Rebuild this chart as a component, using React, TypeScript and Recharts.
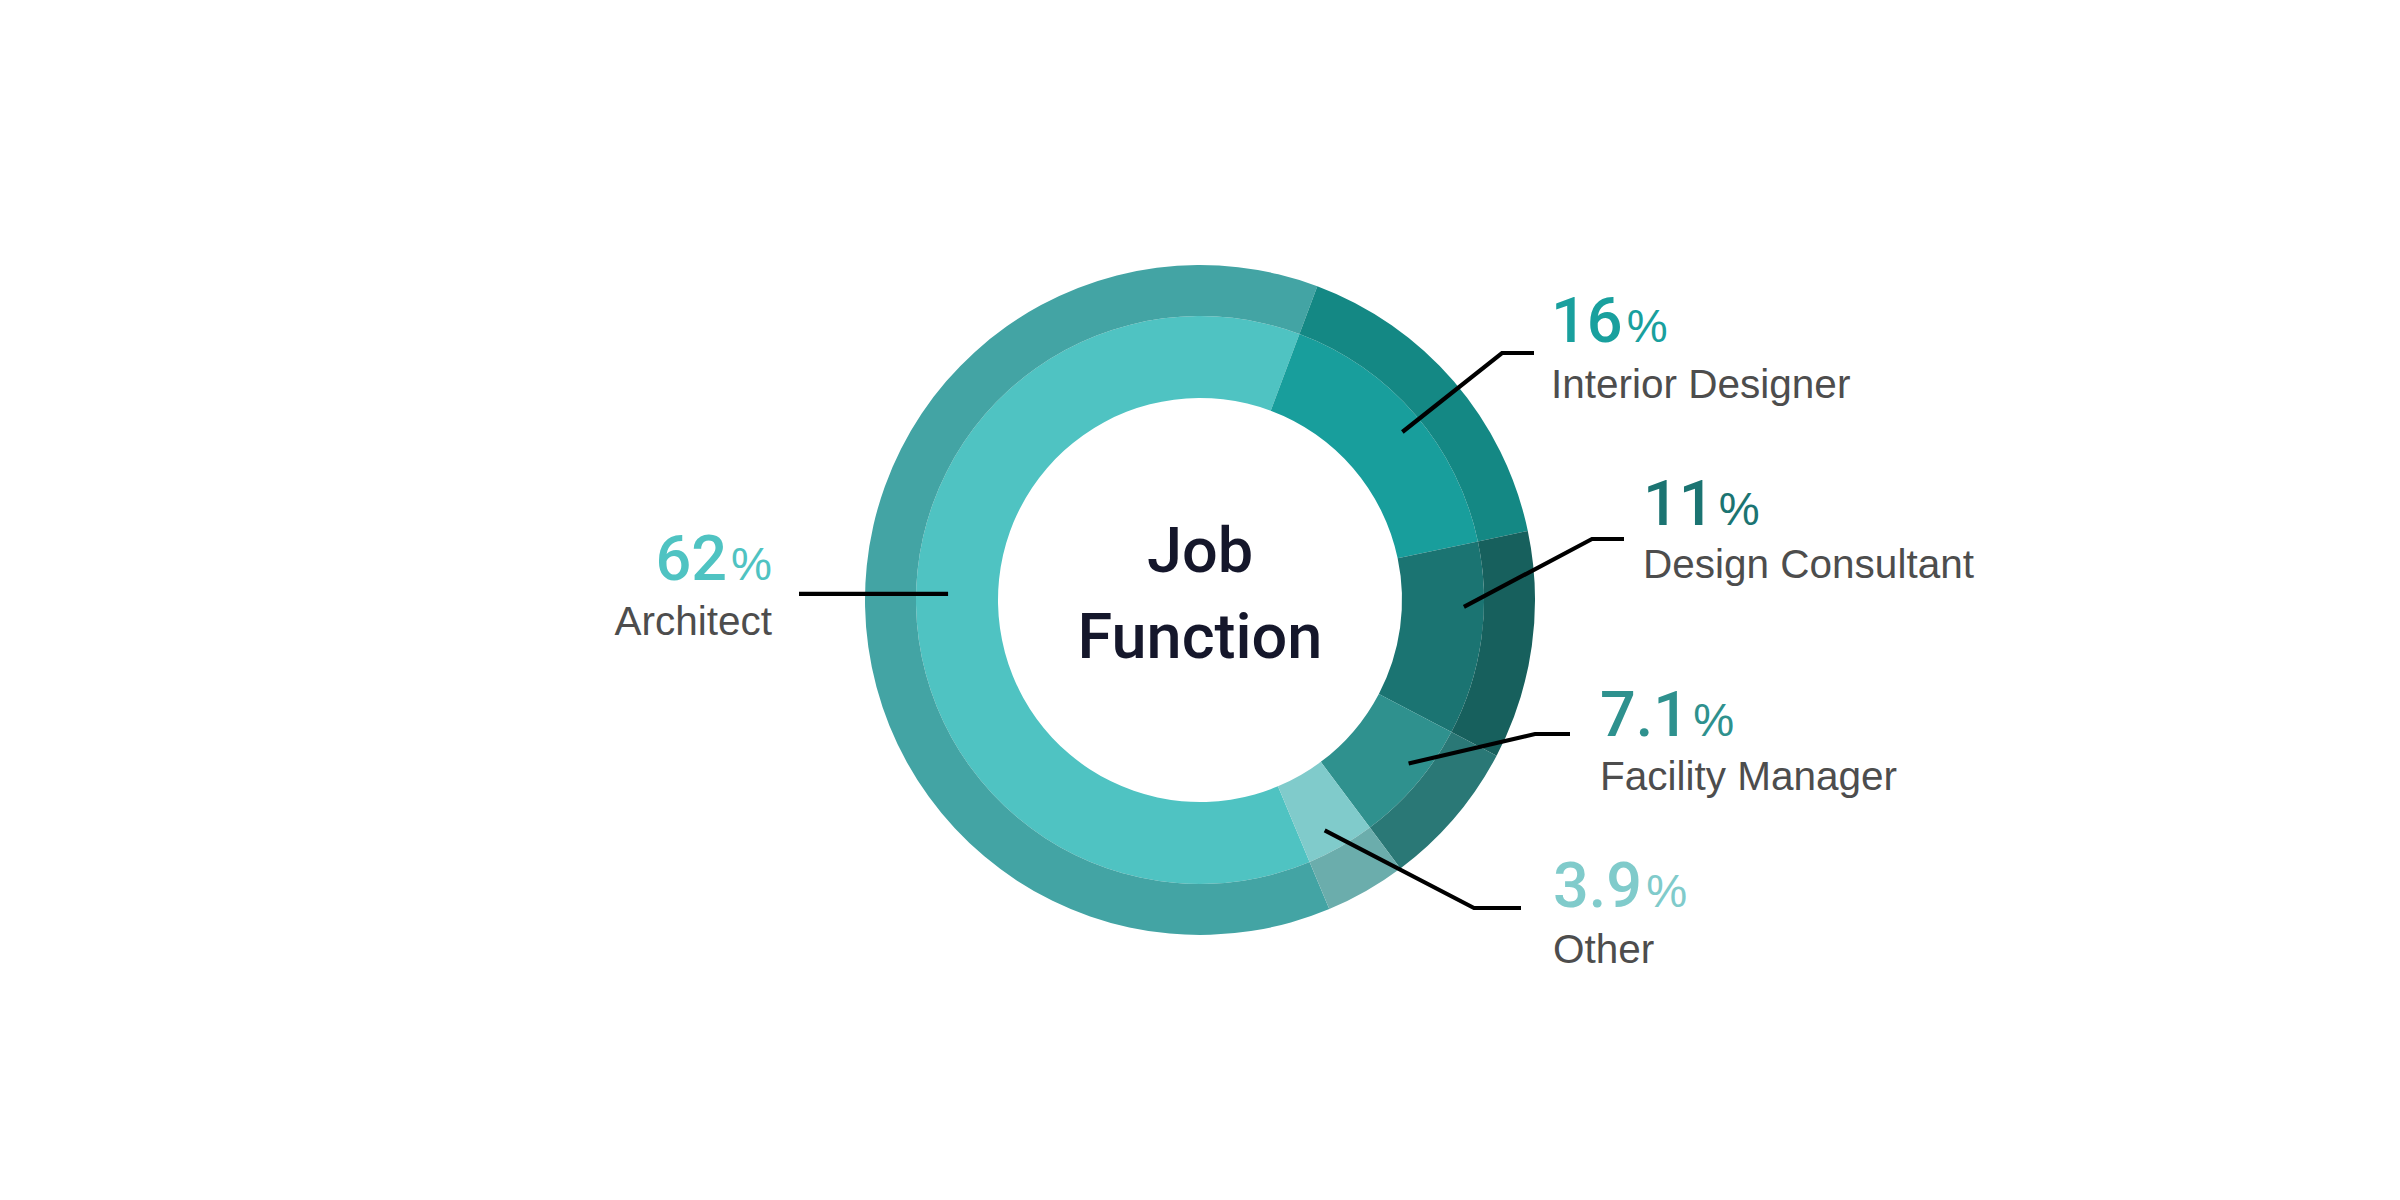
import React from "react";
import { PieChart, Pie, Cell } from "recharts";

// ---- data ----
const categories = ["Architect", "Interior Designer", "Design Consultant", "Facility Manager", "Other"];
const shares = [62, 16, 11, 7.1, 3.9];
const shareLabels = ["62", "16", "11", "7.1", "3.9"];
const innerColors = ["#4FC3C2", "#189E9C", "#1B7472", "#2F918E", "#80CBCB"];
const outerColors = ["#43A4A4", "#148884", "#17605D", "#2A7876", "#6BADAC"];
const numberColors = ["#4FC3C2", "#19A09E", "#1B7472", "#2E918E", "#80CBCB"];
const centerTitle = ["Job", "Function"];

const data = categories.map((name, i) => ({ name, value: shares[i], label: shareLabels[i] }));

// ---- layout ----
const W = 2400;
const H = 1200;
const CX = 1200;
const CY = 600;
const HOLE_R = 202;
const MID_R = 284;
const OUTER_R = 335;
const START_ANGLE = -67.3;

type LabelLayout = {
  r: number; // leader start radius
  nudge: number; // clockwise angle nudge (deg) from slice mid-angle
  elbow?: [number, number];
  endX: number;
  anchor: "start" | "end";
  textX: number;
  numY: number;
  nameY: number;
};

// annotation placement, relative to the pie centre
const labelLayout: LabelLayout[] = [
  { r: 252, nudge: 2.5, endX: -401, anchor: "end", textX: -428, numY: -20, nameY: 35 },
  { r: 263, nudge: 1.0, elbow: [302, -247], endX: 334, anchor: "start", textX: 351, numY: -258, nameY: -202 },
  { r: 264, nudge: -6.4, elbow: [392, -61], endX: 424, anchor: "start", textX: 443, numY: -75, nameY: -22 },
  { r: 265, nudge: -2.4, elbow: [335, 134], endX: 370, anchor: "start", textX: 400, numY: 136, nameY: 190 },
  { r: 262, nudge: 1.3, elbow: [274, 308], endX: 321, anchor: "start", textX: 353, numY: 307, nameY: 363 },
];

const NUM_FONT = "Roboto, 'Liberation Sans', sans-serif";
const LABEL_FONT = "'Liberation Sans', Arial, sans-serif";

const renderLabel = (props: any) => {
  const { cx, cy, midAngle, index } = props;
  const lay = labelLayout[index];
  const rad = (-(midAngle - lay.nudge) * Math.PI) / 180;
  const sx = cx + lay.r * Math.cos(rad);
  const sy = cy + lay.r * Math.sin(rad);
  let pts: number[][];
  if (lay.elbow) {
    const ex = cx + lay.elbow[0];
    const ey = cy + lay.elbow[1];
    pts = [
      [sx, sy],
      [ex, ey],
      [cx + lay.endX, ey],
    ];
  } else {
    pts = [
      [sx, sy],
      [cx + lay.endX, sy],
    ];
  }
  return (
    <g key={`lbl-${index}`}>
      <polyline
        points={pts.map((p) => p.join(",")).join(" ")}
        fill="none"
        stroke="#000000"
        strokeWidth={4.2}
        strokeLinejoin="miter"
      />
      <text x={cx + lay.textX} y={cy + lay.numY} textAnchor={lay.anchor} fill={numberColors[index]}>
        <tspan fontFamily={NUM_FONT} fontWeight={500} fontSize={63}>
          {data[index].label}
        </tspan>
        <tspan fontFamily={LABEL_FONT} fontSize={46} dx={4}>
          %
        </tspan>
      </text>
      <text
        x={cx + lay.textX}
        y={cy + lay.nameY}
        textAnchor={lay.anchor}
        fontFamily={LABEL_FONT}
        fontSize={40.5}
        fill="#4D4D4D"
      >
        {data[index].name}
      </text>
    </g>
  );
};

export default function App() {
  return (
    <div style={{ position: "absolute", left: 0, top: 0, width: W, height: H, background: "#ffffff" }}>
      <PieChart width={W} height={H} margin={{ top: 0, right: 0, bottom: 0, left: 0 }}>
        <Pie
          data={data}
          dataKey="value"
          nameKey="name"
          cx={CX}
          cy={CY}
          innerRadius={HOLE_R}
          outerRadius={MID_R}
          startAngle={START_ANGLE}
          endAngle={START_ANGLE - 360}
          stroke="none"
          isAnimationActive={false}
          labelLine={false}
        >
          {data.map((d, i) => (
            <Cell key={d.name} fill={innerColors[i]} stroke="none" />
          ))}
        </Pie>
        <Pie
          data={data}
          dataKey="value"
          nameKey="name"
          cx={CX}
          cy={CY}
          innerRadius={MID_R}
          outerRadius={OUTER_R}
          startAngle={START_ANGLE}
          endAngle={START_ANGLE - 360}
          stroke="none"
          isAnimationActive={false}
          labelLine={false}
          label={renderLabel}
        >
          {data.map((d, i) => (
            <Cell key={d.name} fill={outerColors[i]} stroke="none" />
          ))}
        </Pie>
        <text x={CX} y={CY - 28} textAnchor="middle" fontFamily={NUM_FONT} fontWeight={500} fontSize={63} fill="#15172B">
          {centerTitle[0]}
        </text>
        <text x={CX} y={CY + 58} textAnchor="middle" fontFamily={NUM_FONT} fontWeight={500} fontSize={63} fill="#15172B">
          {centerTitle[1]}
        </text>
      </PieChart>
    </div>
  );
}
